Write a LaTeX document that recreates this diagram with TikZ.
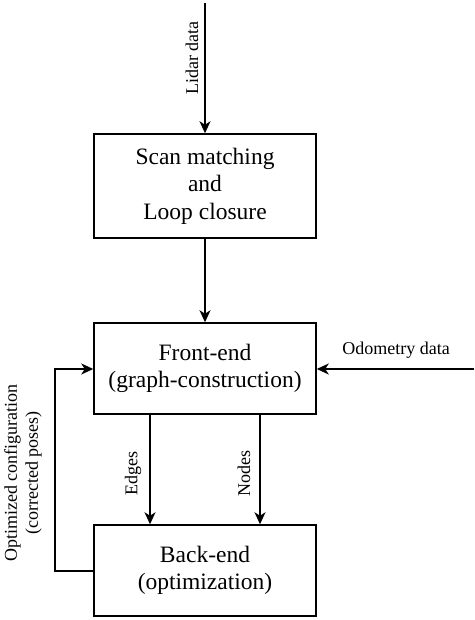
\documentclass[tikz,border=0pt]{standalone}
\usepackage{fontspec}
\setmainfont{Liberation Serif}
\usetikzlibrary{arrows.meta}
\begin{document}
\begin{tikzpicture}[x=1pt,y=-1pt,
  box/.style={draw,line width=1.5pt,minimum width=222pt,inner sep=0pt,align=center,font=\fontsize{23.5}{27.5}\selectfont},
  conn/.style={line width=1.5pt,-{Stealth[length=12pt,width=11pt,inset=3.5pt]}},
  lab/.style={font=\fontsize{18}{21}\selectfont,inner sep=0pt,align=center}]
\useasboundingbox (0,0) rectangle (474,620);
\node[box,minimum height=104pt] (scan) at (205,186) {Scan matching\\and\\Loop closure};
\node[box,minimum height=91pt] (front) at (205,368.5) {Front-end\\(graph-construction)};
\node[box,minimum height=91pt] (back) at (205,570.5) {Back-end\\(optimization)};
\coordinate (lidar) at (205,3);
\coordinate (odo) at (474,369);
\coordinate (fbA) at (55,571);
\coordinate (fbB) at (55,369);
\draw[conn] (lidar) -- (scan.north);
\draw[conn] (scan.south) -- (front.north);
\draw[conn] (odo) -- (front.east |- odo);
\draw[conn] (front.south -| 150,0) -- (back.north -| 150,0);
\draw[conn] (front.south -| 260,0) -- (back.north -| 260,0);
\draw[conn] (back.west |- fbA) -- (fbA) -- (fbB) -- (front.west |- fbB);
\node[lab,rotate=90] (llid) at (192,58) {Lidar data};
\node[lab] (lodo) at (396,350) {Odometry data};
\node[lab,rotate=90] (ledg) at (133,473) {Edges};
\node[lab,rotate=90] (lnod) at (244,473) {Nodes};
\node[lab,rotate=90] (lopt) at (23,473) {Optimized configuration\\(corrected poses)};
\end{tikzpicture}
\end{document}
